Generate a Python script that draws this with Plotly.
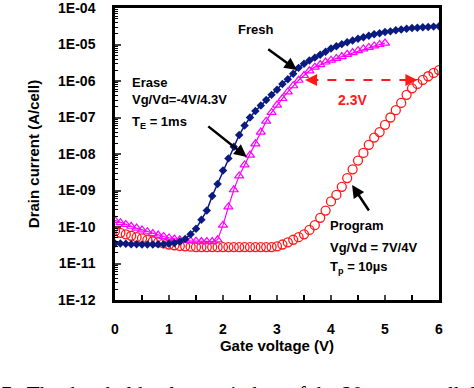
import numpy as np
import plotly.graph_objects as go

# Gate voltage (V)
vg_fresh = [round(0.1 * i, 1) for i in range(61)]
vg_erase = [round(0.1 * i, 1) for i in range(51)]
vg_prog = [round(0.1 * i, 1) for i in range(61)]

# log10 of drain current (A/cell)
log_fresh = [-10.45, -10.45, -10.46, -10.47, -10.47, -10.48, -10.48, -10.48, -10.47, -10.47,
             -10.46, -10.44, -10.40, -10.33, -10.20, -10.05, -9.80, -9.55, -9.15, -8.82,
             -8.45, -8.12, -7.80, -7.48, -7.22, -7.00, -6.82, -6.67, -6.52, -6.38,
             -6.24, -6.08, -5.95, -5.80, -5.64, -5.53, -5.44, -5.36, -5.28, -5.20,
             -5.11, -5.05, -4.99, -4.94, -4.89, -4.84, -4.80, -4.76, -4.72, -4.69,
             -4.66, -4.64, -4.61, -4.59, -4.57, -4.55, -4.54, -4.53, -4.52, -4.51, -4.50]
log_erase = [-9.82, -9.88, -9.93, -9.98, -10.03, -10.08, -10.13, -10.18, -10.22, -10.26,
             -10.30, -10.33, -10.35, -10.37, -10.38, -10.39, -10.40, -10.40, -10.40, -10.35,
             -9.95, -9.45, -8.98, -8.60, -8.30, -8.03, -7.72, -7.40, -7.10, -6.86,
             -6.66, -6.48, -6.30, -6.13, -5.98, -5.85, -5.72, -5.62, -5.55, -5.48,
             -5.43, -5.38, -5.33, -5.27, -5.22, -5.17, -5.12, -5.08, -5.04, -5.00, -4.96]
log_prog = [-10.11, -10.16, -10.20, -10.24, -10.28, -10.31, -10.35, -10.39, -10.42, -10.45,
            -10.48, -10.50, -10.52, -10.53, -10.54, -10.55, -10.55, -10.55, -10.55, -10.55,
            -10.55, -10.55, -10.55, -10.55, -10.55, -10.55, -10.55, -10.55, -10.55, -10.55,
            -10.53, -10.48, -10.42, -10.35, -10.28, -10.20, -10.08, -9.95, -9.75, -9.55,
            -9.30, -9.12, -8.90, -8.66, -8.42, -8.18, -7.97, -7.75, -7.55, -7.40,
            -7.20, -7.00, -6.80, -6.60, -6.38, -6.20, -6.08, -5.97, -5.87, -5.78, -5.70]

i_fresh = [10 ** v for v in log_fresh]
i_erase = [10 ** v for v in log_erase]
i_prog = [10 ** v for v in log_prog]

y_tickvals = [1e-12, 1e-11, 1e-10, 1e-9, 1e-8, 1e-7, 1e-6, 1e-5, 1e-4]
y_ticktext = ["<b>1E-12</b>", "<b>1E-11</b>", "<b>1E-10</b>", "<b>1E-09</b>", "<b>1E-08</b>",
              "<b>1E-07</b>", "<b>1E-06</b>", "<b>1E-05</b>", "<b>1E-04</b>"]
x_tickvals = [0, 1, 2, 3, 4, 5, 6]
x_ticktext = ["<b>0</b>", "<b>1</b>", "<b>2</b>", "<b>3</b>", "<b>4</b>", "<b>5</b>", "<b>6</b>"]

FONT = "Liberation Sans, Arial, sans-serif"

fig = go.Figure()
fig.add_trace(go.Scatter(x=vg_prog, y=i_prog, mode="markers", name="Program",
                         marker=dict(symbol="circle-open", size=9, color="#ff1a1a",
                                     line=dict(width=1.3, color="#ff1a1a"))))
fig.add_trace(go.Scatter(x=vg_erase, y=i_erase, mode="lines+markers", name="Erase",
                         line=dict(color="#ff00ff", width=1.2),
                         marker=dict(symbol="triangle-up-open", size=8, color="#ff00ff",
                                     line=dict(width=1.2, color="#ff00ff"))))
fig.add_trace(go.Scatter(x=vg_fresh, y=i_fresh, mode="lines+markers", name="Fresh",
                         line=dict(color="#0a1a80", width=1.5),
                         marker=dict(symbol="diamond", size=6.5, color="#0a1a80")))

ann_font = dict(family=FONT, size=13, color="black")
annotations = [
    dict(x=2.6, y=-4.6, text="<b>Fresh</b>", showarrow=False, font=ann_font),
    dict(x=0.28, y=-6.03, text="<b>Erase</b>", showarrow=False, xanchor="left", font=ann_font),
    dict(x=0.28, y=-6.52, text="<b>Vg/Vd=-4V/4.3V</b>", showarrow=False, xanchor="left", font=ann_font),
    dict(x=0.28, y=-7.15, text="<b>T<sub>E</sub> = 1ms</b>", showarrow=False, xanchor="left", font=ann_font),
    dict(x=3.94, y=-9.97, text="<b>Program</b>", showarrow=False, xanchor="left", font=ann_font),
    dict(x=3.94, y=-10.55, text="<b>Vg/Vd = 7V/4V</b>", showarrow=False, xanchor="left", font=ann_font),
    dict(x=3.94, y=-11.12, text="<b>T<sub>p</sub> = 10µs</b>", showarrow=False, xanchor="left", font=ann_font),
    dict(x=4.4, y=-6.52, text="<b>2.3V</b>", showarrow=False, font=dict(family=FONT, size=14, color="#ff1a1a")),
    # black arrows
    dict(x=3.37, y=-5.7, ax=2.81, ay=-5.10, xref="x", yref="y", axref="x", ayref="y",
         text="", showarrow=True, arrowhead=2, arrowsize=1, arrowwidth=2.5, arrowcolor="black"),
    dict(x=2.44, y=-8.08, ax=1.7, ay=-7.21, xref="x", yref="y", axref="x", ayref="y",
         text="", showarrow=True, arrowhead=2, arrowsize=1, arrowwidth=2.5, arrowcolor="black"),
    dict(x=4.39, y=-8.85, ax=4.72, ay=-9.59, xref="x", yref="y", axref="x", ayref="y",
         text="", showarrow=True, arrowhead=2, arrowsize=1, arrowwidth=2.5, arrowcolor="black"),
    # red arrowheads for 2.3V
    dict(x=3.52, y=-5.97, ax=3.72, ay=-5.97, xref="x", yref="y", axref="x", ayref="y",
         text="", showarrow=True, arrowhead=2, arrowsize=1.2, arrowwidth=2, arrowcolor="#ff1a1a"),
    dict(x=5.6, y=-5.97, ax=5.4, ay=-5.97, xref="x", yref="y", axref="x", ayref="y",
         text="", showarrow=True, arrowhead=2, arrowsize=1.2, arrowwidth=2, arrowcolor="#ff1a1a"),
    # cut-off caption
    dict(x=0, y=-0.274, xref="paper", yref="paper", xanchor="left", yanchor="top", xshift=-116,
         text="7.  The threshold voltage window of the 20nm test cell. I", showarrow=False,
         font=dict(family="Liberation Serif, Times New Roman, serif", size=21, color="black")),
]

fig.add_shape(type="line", x0=3.6, x1=5.5, y0=10 ** -5.97, y1=10 ** -5.97, xref="x", yref="y",
              line=dict(color="#ff1a1a", width=2, dash="dash"))

fig.update_layout(
    width=474, height=388,
    margin=dict(l=115, r=35, t=8, b=88),
    paper_bgcolor="white", plot_bgcolor="white",
    showlegend=False,
    font=dict(family=FONT, color="black"),
    annotations=annotations,
)
fig.update_xaxes(range=[0, 6], tickvals=x_tickvals, ticktext=x_ticktext, ticks="inside", ticklen=5, tickwidth=2,
                 showline=True, linewidth=2.5, linecolor="black", mirror=True, showgrid=False, zeroline=False,
                 automargin=False, ticklabeloverflow="allow",
                 tickfont=dict(family=FONT, size=14, color="black"), ticklabelstandoff=14,
                 minor=dict(ticks="inside", dtick=0.5, ticklen=5, tickwidth=2, tickcolor="black"),
                 title=dict(text="<b>Gate voltage (V)</b>", font=dict(family=FONT, size=15), standoff=4))
fig.update_yaxes(type="log", range=[-12, -4], tickvals=y_tickvals, ticktext=y_ticktext,
                 ticks="inside", ticklen=6, tickwidth=2,
                 showline=True, linewidth=2.5, linecolor="black", mirror=True, showgrid=False, zeroline=False,
                 automargin=False, ticklabeloverflow="allow",
                 tickfont=dict(family=FONT, size=14, color="black"), ticklabelstandoff=14,
                 minor=dict(ticks="inside", dtick="D1", ticklen=3, tickwidth=1, tickcolor="black"),
                 title=dict(text="<b>Drain current (A/cell)</b>", font=dict(family=FONT, size=15), standoff=15))

fig.write_html("out.html", config={"displayModeBar": False},
               post_script="document.body.style.margin='0';")
